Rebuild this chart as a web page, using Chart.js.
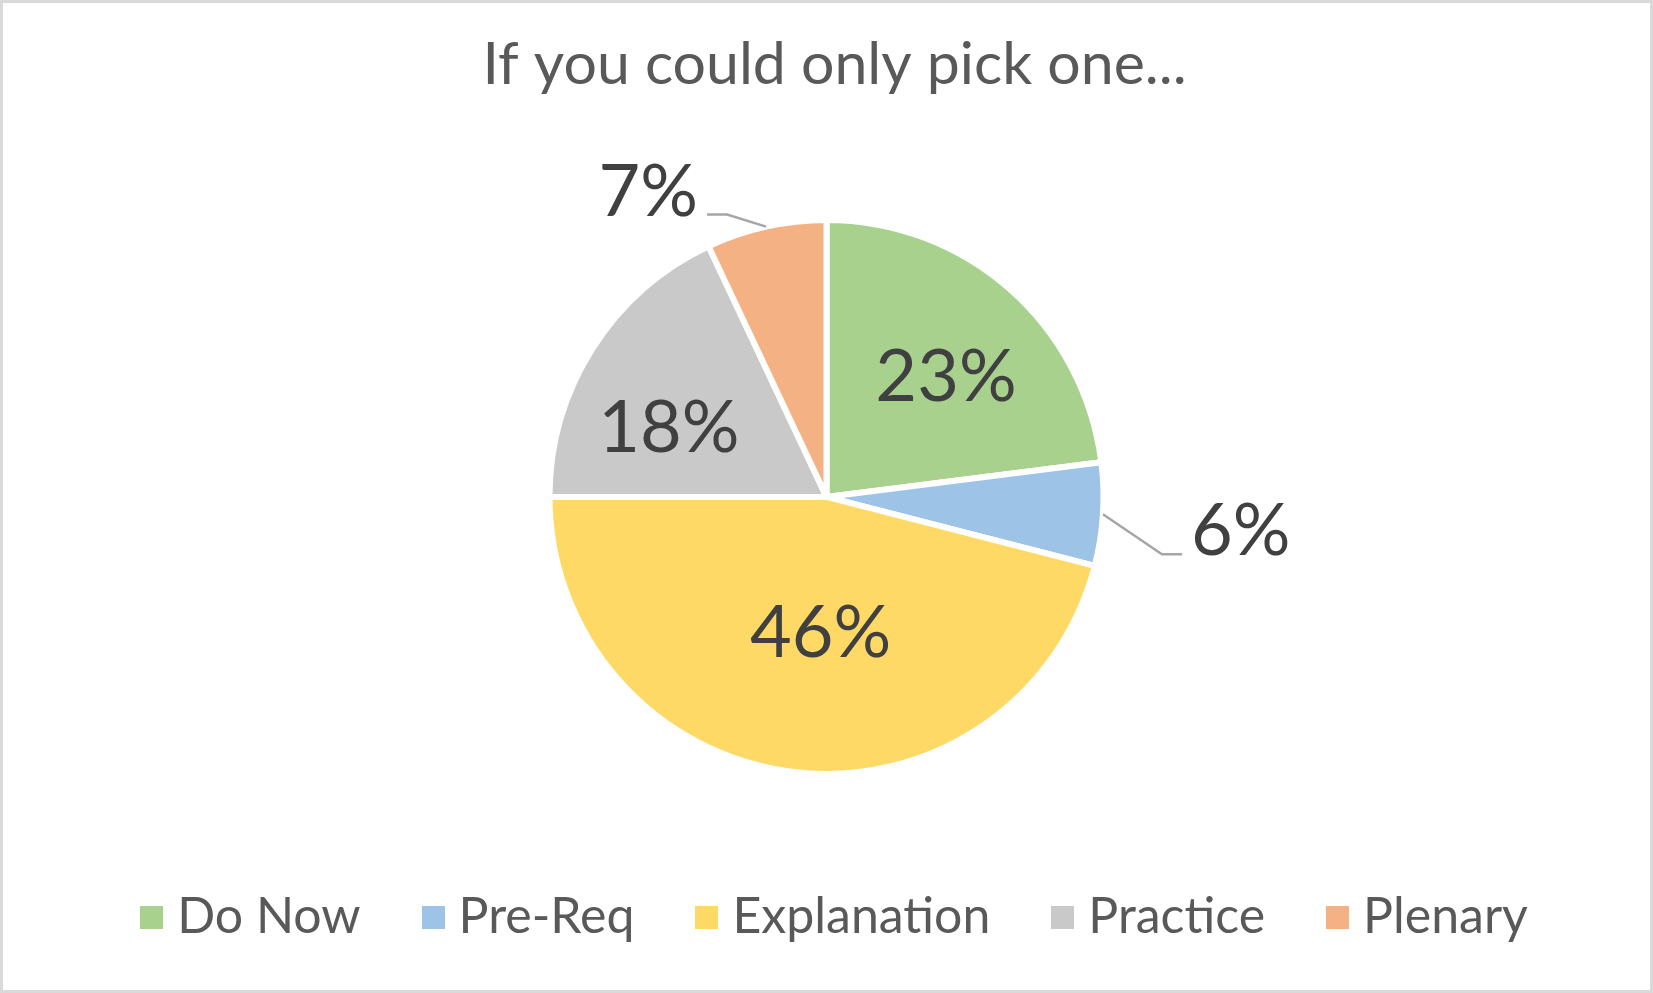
<!DOCTYPE html>
<html>
<head>
<meta charset="utf-8">
<script src="https://cdn.jsdelivr.net/npm/chart.js@4"></script>
<style>
  html, body { margin: 0; padding: 0; background: #fff; }
  #frame { width: 1653px; height: 993px; box-sizing: border-box; border: 3px solid #d9d9d9; }
  canvas { display: block; }
</style>
</head>
<body>
<div id="frame"><canvas id="chart" width="1647" height="987"></canvas></div>
<script>
const categories = ["Do Now", "Pre-Req", "Explanation", "Practice", "Plenary"];
const shares = [23, 6, 46, 18, 7];
const sliceColors = ["#A9D18E", "#9DC3E6", "#FFD966", "#C9C9C9", "#F4B183"];
const chartTitle = "If you could only pick one...";

// percentage labels, drawn from the arc geometry
const pieLabels = {
  id: "pieLabels",
  afterLayout(chart, args, opts) {
    // nudge title and legend a little to the right, as in the original
    chart.titleBlock.left += opts.titleShift;
    chart.titleBlock.right += opts.titleShift;
    chart.legend.left += opts.legendShift;
    chart.legend.right += opts.legendShift;
  },
  afterDatasetsDraw(chart, args, opts) {
    const ctx = chart.ctx;
    const meta = chart.getDatasetMeta(0);
    const data = chart.data.datasets[0].data;
    const total = data.reduce((a, b) => a + b, 0);
    ctx.save();
    ctx.font = opts.size + "px Lato";
    ctx.fillStyle = opts.color;
    meta.data.forEach((arc, i) => {
      const p = arc.getProps(["x", "y", "startAngle", "endAngle", "outerRadius"], true);
      const mid = (p.startAngle + p.endAngle) / 2;
      const text = Math.round(data[i] / total * 100) + "%";
      const out = opts.outside[i];
      if (out) {
        const sx = p.x + Math.cos(mid) * p.outerRadius;
        const sy = p.y + Math.sin(mid) * p.outerRadius;
        const ex = sx + out.dx, ey = sy + out.dy;
        const hx = ex + out.len;
        ctx.strokeStyle = opts.lineColor;
        ctx.lineWidth = 2.5;
        ctx.beginPath();
        ctx.moveTo(sx, sy);
        ctx.lineTo(ex, ey);
        ctx.lineTo(hx, ey);
        ctx.stroke();
        ctx.textAlign = out.len > 0 ? "left" : "right";
        ctx.textBaseline = "alphabetic";
        ctx.fillText(text, hx + Math.sign(out.len) * 9, ey + 1);
      } else {
        const pos = opts.inside[i];
        const a = mid + pos.turn * Math.PI / 180;
        const r = p.outerRadius * pos.r;
        ctx.textAlign = "center";
        ctx.textBaseline = "middle";
        ctx.fillText(text, p.x + Math.cos(a) * r, p.y + Math.sin(a) * r);
      }
    });
    ctx.restore();
  }
};

// small filled square used as the legend marker
function squareMarker(color) {
  const c = document.createElement("canvas");
  c.width = 23;
  c.height = 23;
  const g = c.getContext("2d");
  g.fillStyle = color;
  g.fillRect(0, 0, 23, 23);
  return c;
}

function draw() {
  const defaultLabels = Chart.overrides.pie.plugins.legend.labels.generateLabels;
  new Chart(document.getElementById("chart"), {
    type: "pie",
    data: {
      labels: categories,
      datasets: [{
        data: shares,
        backgroundColor: sliceColors,
        borderColor: "#ffffff",
        borderWidth: 6,
        radius: 277
      }]
    },
    options: {
      responsive: false,
      animation: false,
      devicePixelRatio: 1,
      layout: { padding: { bottom: 38 } },
      font: { family: "Lato" },
      plugins: {
        tooltip: { enabled: false },
        title: {
          display: true,
          text: chartTitle,
          color: "#595959",
          font: { family: "Lato", size: 59, weight: "normal" },
          padding: { top: 27, bottom: 73 }
        },
        legend: {
          position: "bottom",
          labels: {
            color: "#595959",
            font: { family: "Lato", size: 50 },
            usePointStyle: true,
            boxWidth: 1,
            boxHeight: 23,
            padding: 72,
            generateLabels(chart) {
              return defaultLabels(chart).map(item => Object.assign(item, {
                lineWidth: 0,
                strokeStyle: "rgba(0,0,0,0)",
                pointStyle: squareMarker(item.fillStyle)
              }));
            }
          }
        },
        pieLabels: {
          size: 72,
          color: "#404040",
          lineColor: "#A6A6A6",
          titleShift: 8,
          legendShift: 13,
          inside: {
            0: { r: 0.61, turn: 3.6 },
            2: { r: 0.495, turn: -4.7 },
            3: { r: 0.62, turn: -9 }
          },
          outside: {
            1: { dx: 59, dy: 40, len: 20 },
            4: { dx: -39, dy: -12, len: -20 }
          }
        }
      }
    },
    plugins: [pieLabels]
  });
}

document.fonts.load("50px Lato").then(draw, draw);
</script>
</body>
</html>
